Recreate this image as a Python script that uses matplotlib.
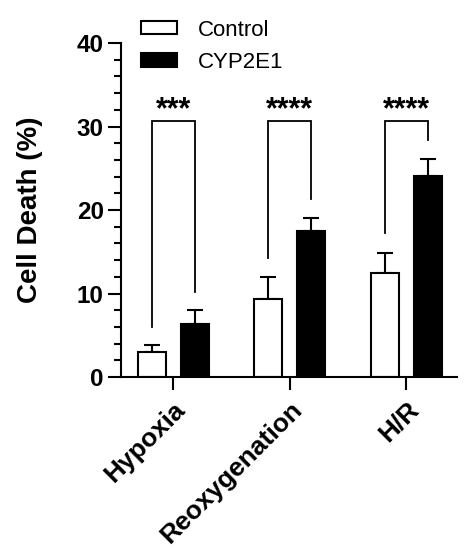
import matplotlib
matplotlib.use("Agg")
import matplotlib.pyplot as plt
from matplotlib.ticker import MultipleLocator
import numpy as np

plt.rcParams["font.family"] = ["Liberation Sans", "DejaVu Sans"]

categories = ["Hypoxia", "Reoxygenation", "H/R"]
series_names = ["Control", "CYP2E1"]
control_mean = [3.0, 9.3, 12.4]
control_err = [0.8, 2.7, 2.5]
cyp_mean = [6.4, 17.5, 24.1]
cyp_err = [1.6, 1.6, 2.0]

# significance brackets: leg bottoms (left, right), shared top, label
bracket_left = [6.0, 14.2, 17.2]
bracket_right = [10.2, 21.3, 28.4]
bracket_top = [30.7, 30.7, 30.7]
stars = ["***", "****", "****"]

fig = plt.figure(figsize=(4.73, 5.5), dpi=100)
ax = fig.add_axes([0.256, 0.3145, 0.710, 0.6073])

x = np.arange(len(categories))
offset = 0.185
width = 0.24
lw = 1.5

ax.bar(x - offset, control_mean, width, color="white", edgecolor="black",
       linewidth=lw, label=series_names[0], zorder=2)
ax.bar(x + offset, cyp_mean, width, color="black", edgecolor="black",
       linewidth=lw, label=series_names[1], zorder=2)
ax.errorbar(x - offset, control_mean, yerr=[np.zeros(3), control_err], fmt="none",
            ecolor="black", elinewidth=lw, capsize=5.5, capthick=lw, zorder=1)
ax.errorbar(x + offset, cyp_mean, yerr=[np.zeros(3), cyp_err], fmt="none",
            ecolor="black", elinewidth=lw, capsize=5.5, capthick=lw, zorder=1)

for i in range(len(categories)):
    xl, xr = x[i] - offset, x[i] + offset
    ax.plot([xl, xl, xr, xr], [bracket_left[i], bracket_top[i], bracket_top[i], bracket_right[i]],
            color="black", linewidth=1.3, solid_joinstyle="miter")
    ax.text(x[i], 30.95, stars[i], ha="center", va="baseline", fontsize=22,
            fontweight="bold")

ax.set_xlim(-0.446, 2.434)
ax.set_ylim(0, 40)
ax.yaxis.set_major_locator(MultipleLocator(10))
ax.yaxis.set_minor_locator(MultipleLocator(2))
ax.set_xticks(x)
ax.set_xticklabels(categories, rotation=45, ha="right", rotation_mode="anchor",
                   fontsize=19, fontweight="bold")
for lab in ax.get_yticklabels():
    lab.set_fontweight("bold")
    lab.set_fontsize(17.5)

ax.spines["top"].set_visible(False)
ax.spines["right"].set_visible(False)
ax.spines["left"].set_linewidth(lw)
ax.spines["bottom"].set_linewidth(lw)
ax.tick_params(axis="both", which="major", length=9.5, width=lw, direction="out", pad=3)
ax.tick_params(axis="x", which="major", pad=5)
ax.tick_params(axis="y", which="minor", length=5, width=lw)

ax.set_ylabel("Cell Death (%)", fontsize=20, fontweight="bold")
ax.yaxis.set_label_coords(-0.232, 0.5)

ax.legend(loc="upper left", bbox_to_anchor=(0.06, 1.07), frameon=False,
          fontsize=16, handlelength=1.62, handleheight=0.55, handletextpad=0.95,
          labelspacing=0.5, borderpad=0, borderaxespad=0)

fig.savefig("out.png", dpi=100)
